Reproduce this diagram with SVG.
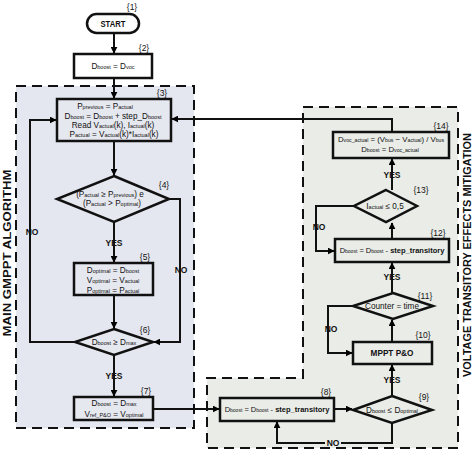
<svg xmlns="http://www.w3.org/2000/svg" width="474" height="455" viewBox="0 0 474 455">
<defs>
<marker id="ah" viewBox="0 0 10 10" refX="9" refY="5" markerWidth="7" markerHeight="7" markerUnits="userSpaceOnUse" orient="auto">
<path d="M0,0 L10,5 L0,10 z" fill="#000"/>
</marker>
</defs>
<style>
text{font-family:"Liberation Sans",Arial,sans-serif;fill:#111;text-anchor:middle}
.t{font-size:8.2px}
.s{font-size:5.5px}
.m{font-size:7.5px}
.m .s{font-size:5px}
.k{font-size:7.8px}
.k .s{font-size:5.2px}
.n{font-size:8.5px}
.lb{font-size:8.5px;font-weight:700}
.b{font-weight:700}
.box{stroke:#111;stroke-width:2.5;fill:#e6e8ef}
.boxr{stroke:#111;stroke-width:2.5;fill:#e9ece7}
.w{fill:#fff}
.c{fill:none;stroke:#111;stroke-width:2;marker-end:url(#ah)}
.panel{stroke:#111;stroke-width:2;stroke-dasharray:10,6}
.side{font-size:10.5px;font-weight:700}
</style>
<path class="panel" d="M16,86 H194 V428 H16 Z" fill="#e5e7f0"/>
<path class="panel" d="M303,107 H458 V448 H207 V378 H303 Z" fill="#e9ece7"/>
<text class="side" transform="translate(11,253) rotate(-90)" textLength="167" lengthAdjust="spacingAndGlyphs">MAIN GMPPT ALGORITHM</text>
<text class="side" transform="translate(471,255) rotate(-90)" textLength="244" lengthAdjust="spacingAndGlyphs">VOLTAGE TRANSITORY EFFECTS MITIGATION</text>
<g id="connectors">
<path class="c" d="M114,33 V53"/>
<path class="c" d="M114,78 V98"/>
<path class="c" d="M114,141 V175"/>
<path class="c" d="M114,222 V262"/>
<path class="c" d="M114,295 V328"/>
<path class="c" d="M169,199 H180 V342 H154"/>
<path class="c" d="M75,342 H30 V120 H56"/>
<path class="c" d="M114,355 V396"/>
<path class="c" d="M153,409 H219"/>
<path class="c" d="M334,409 H352"/>
<path class="c" d="M392,423 V443 H341 M325,443 H277 V422"/>
<path class="c" d="M392,396 V365"/>
<path class="c" d="M392,342 V320"/>
<path class="c" d="M353,306 H328 V353 H352"/>
<path class="c" d="M392,293 V263"/>
<path class="c" d="M392,239 V223"/>
<path class="c" d="M354,206 H316 V251 H334"/>
<path class="c" d="M392,190 V159"/>
<path class="c" d="M392,132 V119 H172"/>
<text class="lb" x="114" y="246">YES</text>
<text class="lb" x="114" y="379">YES</text>
<text class="lb" x="392" y="383">YES</text>
<text class="lb" x="392" y="280">YES</text>
<text class="lb" x="392" y="178">YES</text>
<text class="lb" x="32" y="235">NO</text>
<text class="lb" x="181" y="273">NO</text>
<text class="lb" x="333" y="446">NO</text>
<text class="lb" x="331" y="332">NO</text>
<text class="lb" x="319" y="230">NO</text>
</g>
<g id="n1"><rect x="87" y="14" width="52" height="19" rx="9.5" class="box w"/><text class="t b" x="113" y="26.5" textLength="25" lengthAdjust="spacingAndGlyphs">START</text><text class="n" x="132" y="10">{1}</text></g>
<g id="n2"><rect x="74" y="54" width="78" height="24" class="box w"/><text class="t" x="113" y="69">D<tspan class="s">boost</tspan> = D<tspan class="s">voc</tspan></text><text class="n" x="144" y="51">{2}</text></g>
<g id="n3"><rect x="57" y="99" width="114" height="42" class="box"/>
<text class="t" x="105" y="109">P<tspan class="s">previous</tspan> = P<tspan class="s">actual</tspan></text>
<text class="t" x="113" y="119">D<tspan class="s">boost</tspan> = D<tspan class="s">boost</tspan> + step_D<tspan class="s">boost</tspan></text>
<text class="t" x="113" y="128">Read V<tspan class="s">actual</tspan>(k), I<tspan class="s">actual</tspan>(k)</text>
<text class="t" x="114" y="137">P<tspan class="s">actual</tspan> = V<tspan class="s">actual</tspan>(k)*I<tspan class="s">actual</tspan>(k)</text>
<text class="n" x="162" y="96">{3}</text></g>
<g id="n4"><path d="M114,176 L169,199 L114,222 L57,199 Z" class="box"/>
<text class="t" x="110" y="197">(P<tspan class="s">actual</tspan> ≥ P<tspan class="s">previous</tspan>) e</text>
<text class="t" x="112" y="206">(P<tspan class="s">actual</tspan> &gt; P<tspan class="s">optimal</tspan>)</text>
<text class="n" x="164" y="188">{4}</text></g>
<g id="n5"><rect x="74" y="263" width="79" height="32" class="box"/>
<text class="t" x="113" y="273">D<tspan class="s">optimal</tspan> = D<tspan class="s">boost</tspan></text>
<text class="t" x="113" y="283">V<tspan class="s">optimal</tspan> = V<tspan class="s">actual</tspan></text>
<text class="t" x="113" y="293">P<tspan class="s">optimal</tspan> = P<tspan class="s">actual</tspan></text>
<text class="n" x="145" y="260">{5}</text></g>
<g id="n6"><path d="M114,329 L153,342 L114,355 L75,342 Z" class="box"/>
<text class="t" x="114" y="345">D<tspan class="s">boost</tspan> ≥ D<tspan class="s">max</tspan></text>
<text class="n" x="145" y="333">{6}</text></g>
<g id="n7"><rect x="74" y="397" width="79" height="23" class="box"/>
<text class="t" x="114" y="406">D<tspan class="s">boost</tspan> = D<tspan class="s">max</tspan></text>
<text class="t" x="114" y="417">V<tspan class="s">ref_P&amp;O</tspan> = V<tspan class="s">optimal</tspan></text>
<text class="n" x="146" y="394">{7}</text></g>
<g id="n8"><rect x="220" y="398" width="114" height="23" class="boxr"/>
<text class="m" x="277" y="412">D<tspan class="s">boost</tspan> = D<tspan class="s">boost</tspan> - <tspan class="b">step_transitory</tspan></text>
<text class="n" x="326" y="395">{8}</text></g>
<g id="n9"><path d="M392,396 L432,410 L392,423 L353,410 Z" class="boxr"/>
<text class="t" x="392" y="413">D<tspan class="s">boost</tspan> ≤ D<tspan class="s">optimal</tspan></text>
<text class="n" x="424" y="400">{9}</text></g>
<g id="n10"><rect x="353" y="342" width="79" height="22" class="boxr"/>
<text class="t b" x="392" y="356">MPPT P&amp;O</text>
<text class="n" x="423" y="338">{10}</text></g>
<g id="n11"><path d="M393,293 L433,306 L393,319 L353,306 Z" class="boxr"/>
<text class="t" x="392" y="309">Counter = time</text>
<text class="n" x="425" y="299">{11}</text></g>
<g id="n12"><rect x="335" y="239" width="114" height="23" class="boxr"/>
<text class="m" x="392" y="253">D<tspan class="s">boost</tspan> = D<tspan class="s">boost</tspan> - <tspan class="b">step_transitory</tspan></text>
<text class="n" x="438" y="236">{12}</text></g>
<g id="n13"><path d="M386,190 L417,206 L386,222 L354,206 Z" class="boxr"/>
<text class="t" x="385" y="209">I<tspan class="s">actual</tspan> ≤ 0,5</text>
<text class="n" x="421" y="193">{13}</text></g>
<g id="n14"><rect x="333" y="132" width="116" height="26" class="boxr"/>
<text class="k" x="391" y="142">D<tspan class="s">voc_actual</tspan> = (V<tspan class="s">bus</tspan> − V<tspan class="s">actual</tspan>) / V<tspan class="s">bus</tspan></text>
<text class="k" x="390" y="152">D<tspan class="s">boost</tspan> = D<tspan class="s">voc_actual</tspan></text>
<text class="n" x="441" y="129">{14}</text></g>
</svg>
